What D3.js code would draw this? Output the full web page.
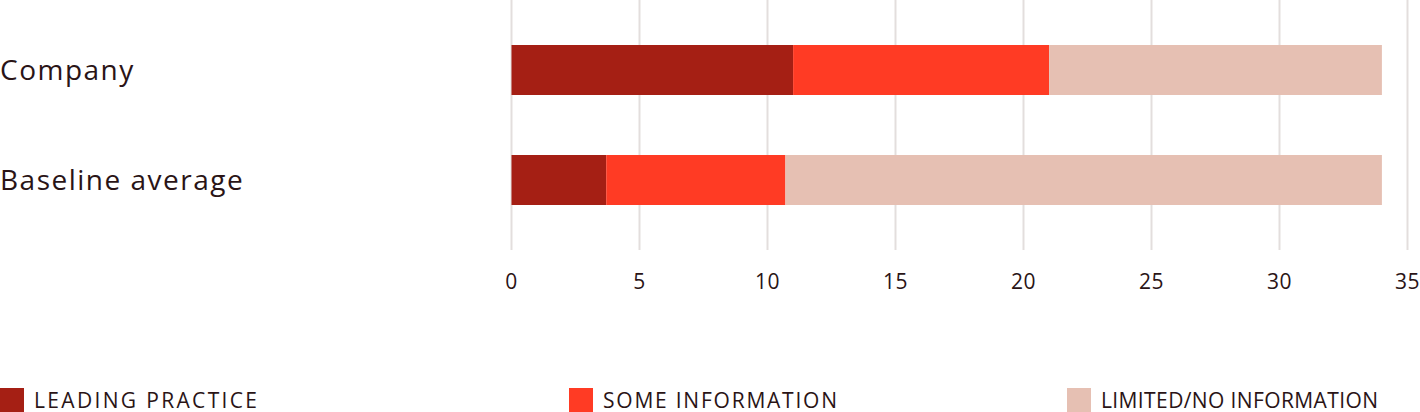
<!DOCTYPE html>
<html>
<head>
<meta charset="utf-8">
<script src="https://cdn.jsdelivr.net/npm/d3@7"></script>
<style>
  body { margin: 0; background: #fff; }
  svg { display: block; font-family: "Open Sans", sans-serif; }
</style>
</head>
<body>
<svg id="chart" width="1420" height="412"></svg>
<script>
const categories = ["Company", "Baseline average"];
const seriesNames = ["LEADING PRACTICE", "SOME INFORMATION", "LIMITED/NO INFORMATION"];
const leading = [11, 3.7];
const some = [10, 7.0];
const limited = [13, 23.3];
const ticks = [0, 5, 10, 15, 20, 25, 30, 35];
const colors = ["#a51f14", "#ff3b24", "#e6c0b3"];
const textColor = "#2a1416";

const svg = d3.select("#chart");

const x = d3.scaleLinear().domain([0, 35]).range([511.5, 1407.5]);
const y = d3.scaleBand().domain(categories).range([12, 238])
  .paddingInner(60 / 110).paddingOuter(0.3);

// gridlines
svg.append("g").selectAll("line")
  .data(ticks)
  .enter().append("line")
  .attr("x1", d => x(d)).attr("x2", d => x(d))
  .attr("y1", 0).attr("y2", 250)
  .style("stroke", "#e3dedd")
  .style("stroke-width", 2);

// stacked bars
const rows = categories.map((c, i) => ({ cat: c, s0: leading[i], s1: some[i], s2: limited[i] }));
const stack = d3.stack().keys(["s0", "s1", "s2"])(rows);

svg.append("g").selectAll("g")
  .data(stack)
  .enter().append("g")
  .style("fill", (d, i) => colors[i])
  .selectAll("rect")
  .data(d => d)
  .enter().append("rect")
  .attr("x", d => x(d[0]))
  .attr("width", d => x(d[1]) - x(d[0]))
  .attr("y", d => y(d.data.cat))
  .attr("height", y.bandwidth());

// category labels (stretched a bit to get closer to the original's wide face)
svg.append("g").selectAll("text")
  .data(categories)
  .enter().append("text")
  .attr("x", 0)
  .attr("y", d => y(d) + y.bandwidth() / 2)
  .attr("dy", "0.36em")
  .style("font-size", "28px")
  .style("letter-spacing", "1.5px")
  .style("fill", textColor)
  .text(d => d);

// tick labels
svg.append("g").selectAll("text")
  .data(ticks)
  .enter().append("text")
  .attr("x", d => x(d))
  .attr("y", 289)
  .style("text-anchor", "middle")
  .style("font-size", "21px")
  .style("letter-spacing", "0.5px")
  .style("fill", textColor)
  .text(d => d);

// legend
const legendX = [0, 569, 1067];
const legendTextW = [223, 234, 277];
const legend = svg.append("g").selectAll("g")
  .data(seriesNames)
  .enter().append("g")
  .attr("transform", (d, i) => `translate(${legendX[i]},388)`);

legend.append("rect")
  .attr("width", 24).attr("height", 30)
  .style("fill", (d, i) => colors[i]);

legend.append("text")
  .attr("x", 34)
  .attr("y", 20)
  .attr("textLength", (d, i) => legendTextW[i])
  .attr("lengthAdjust", "spacing")
  .style("font-size", "21px")
  .style("fill", textColor)
  .text(d => d);
</script>
</body>
</html>
